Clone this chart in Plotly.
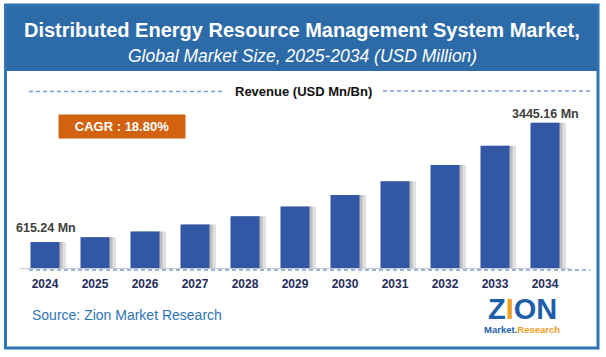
import plotly.graph_objects as go

years = ["2024", "2025", "2026", "2027", "2028", "2029", "2030", "2031", "2032", "2033", "2034"]
revenue = [615.24, 731, 868, 1032, 1225, 1456, 1730, 2055, 2441, 2900, 3445.16]
first_label = "615.24 Mn"
last_label = "3445.16 Mn"
cagr_text = "CAGR : 18.80%"
title_text = "Distributed Energy Resource Management System Market,"
subtitle_text = "Global Market Size, 2025-2034 (USD Million)"
axis_title = "Revenue (USD Mn/Bn)"
source_text = "Source: Zion Market Research"

W, H = 606, 357
L, R, T, B = 20, 36, 100, 89
PW, PH = W - L - R, H - T - B

def px(x):
    return (x - L) / PW

def py(y):
    return (H - B - y) / PH

FONT = "Liberation Sans, Arial, sans-serif"
BAR = "#3257a5"
FRAME = "#2f74b5"
HEADER = "#2c6aa8"
DASH = "#7c9cd8"

idx = list(range(len(years)))

fig = go.Figure()
fig.add_trace(go.Bar(x=idx, y=revenue, marker=dict(color="rgba(60,60,60,0.16)", line=dict(width=0)),
                     width=0.58, offset=-0.16, hoverinfo="skip"))
fig.add_trace(go.Bar(x=idx, y=revenue, marker=dict(color="rgba(60,60,60,0.22)", line=dict(width=0)),
                     width=0.58, offset=-0.23, hoverinfo="skip"))
fig.add_trace(go.Bar(x=idx, y=revenue, marker=dict(color=BAR, line=dict(width=0)),
                     width=0.58, offset=-0.29))

shapes = [
    dict(type="rect", xref="paper", yref="paper", x0=px(5), x1=px(598), y0=py(5), y1=py(71),
         fillcolor=HEADER, line=dict(width=0), layer="below"),
    dict(type="rect", xref="paper", yref="paper", x0=px(5.5), x1=px(598), y0=py(5), y1=py(348),
         fillcolor="rgba(0,0,0,0)", line=dict(color=FRAME, width=3)),
    dict(type="line", xref="paper", yref="paper", x0=px(29), x1=px(222), y0=py(91.5), y1=py(91.5),
         line=dict(color=DASH, width=1.5, dash="4px,3px")),
    dict(type="line", xref="paper", yref="paper", x0=px(383), x1=px(590), y0=py(91), y1=py(91),
         line=dict(color=DASH, width=1.5, dash="4px,3px")),
    dict(type="line", xref="paper", yref="paper", x0=px(29), x1=px(590), y0=py(270), y1=py(270),
         line=dict(color=DASH, width=1.5, dash="4px,3px")),
]

annotations = [
    dict(text="<b>" + title_text + "</b>", x=px(302), y=py(30), xref="paper", yref="paper",
         showarrow=False, font=dict(family=FONT, size=20, color="white"), xanchor="center", yanchor="middle"),
    dict(text="<i>" + subtitle_text + "</i>", x=px(302), y=py(56), xref="paper", yref="paper",
         showarrow=False, font=dict(family=FONT, size=17.5, color="white"), xanchor="center", yanchor="middle"),
    dict(text="<b>" + axis_title + "</b>", x=px(303.5), y=py(91), xref="paper", yref="paper",
         showarrow=False, font=dict(family=FONT, size=13, color="#111111"), xanchor="center", yanchor="middle"),
    dict(text="<b>" + cagr_text + "</b>", x=px(122), y=py(126.5), xref="paper", yref="paper",
         showarrow=False, font=dict(family=FONT, size=13, color="white"), xanchor="center", yanchor="middle",
         bgcolor="#d2620f", width=124, height=21),
    dict(text="<b>" + first_label + "</b>", x=idx[0], y=revenue[0], xref="x", yref="y",
         showarrow=False, font=dict(family=FONT, size=12.5, color="#404040"), xanchor="center", yanchor="bottom",
         yshift=5, xshift=1),
    dict(text="<b>" + last_label + "</b>", x=idx[-1], y=revenue[-1], xref="x", yref="y",
         showarrow=False, font=dict(family=FONT, size=12.5, color="#404040"), xanchor="center", yanchor="bottom",
         yshift=0),
    dict(text=source_text, x=px(30), y=py(315), xref="paper", yref="paper",
         showarrow=False, font=dict(family=FONT, size=14, color="#2e75b6"), xanchor="left", yanchor="middle"),
    dict(text="<b><span style='color:#1d5ea8'>Z</span><span style='color:#f0a020'>I</span><span style='color:#1d5ea8'>ON</span></b>",
         x=px(522), y=py(309), xref="paper", yref="paper", showarrow=False,
         font=dict(family=FONT, size=29), xanchor="center", yanchor="middle"),
    dict(text="<b><span style='color:#1d5ea8'>Market.</span><span style='color:#f0a020'>Research</span></b>",
         x=px(522), y=py(329), xref="paper", yref="paper", showarrow=False,
         font=dict(family=FONT, size=9.5), xanchor="center", yanchor="middle"),
]

fig.update_layout(
    width=W, height=H,
    margin=dict(l=L, r=R, t=T, b=B, pad=0),
    paper_bgcolor="white", plot_bgcolor="white",
    barmode="overlay", showlegend=False,
    shapes=shapes, annotations=annotations,
    xaxis=dict(range=[-0.5, len(years) - 0.5], tickmode="array", tickvals=idx,
               ticktext=["<b>" + y + "</b>" for y in years],
               showgrid=False, zeroline=False, showline=True, linecolor="#c8c8c8", linewidth=1,
               ticks="outside", ticklen=5, tickcolor="rgba(0,0,0,0)",
               tickfont=dict(family=FONT, size=12, color="#1f2d5c")),
    yaxis=dict(range=[0, 3983], visible=False, showgrid=False, zeroline=False),
)

fig.write_html("out.html", config={"displayModeBar": False},
               post_script="document.body.style.margin='0';document.body.style.overflow='hidden';")
